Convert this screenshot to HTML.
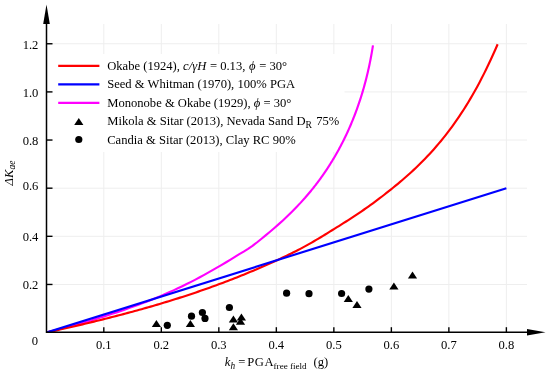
<!DOCTYPE html>
<html><head><meta charset="utf-8"><title>chart</title>
<style>
html,body{margin:0;padding:0;background:#fff;}
svg{display:block;font-family:"Liberation Serif",serif;font-size:12.6px;fill:#000;}
.g line{stroke:#eeeeee;stroke-width:1;}
.t line{stroke:#000;stroke-width:1.4;}
.c{fill:none;stroke-width:2.15;stroke-linejoin:round;}
i{font-style:italic}
</style></head><body>
<svg width="550" height="374" viewBox="0 0 550 374">
<rect width="550" height="374" fill="#fff"/>
<g class="g"><line x1="103.81" y1="24" x2="103.81" y2="332.6" /><line x1="161.32" y1="24" x2="161.32" y2="332.6" /><line x1="218.83" y1="24" x2="218.83" y2="332.6" /><line x1="276.34" y1="24" x2="276.34" y2="332.6" /><line x1="333.85" y1="24" x2="333.85" y2="332.6" /><line x1="391.36" y1="24" x2="391.36" y2="332.6" /><line x1="448.87" y1="24" x2="448.87" y2="332.6" /><line x1="506.38" y1="24" x2="506.38" y2="332.6" /><line x1="46.3" y1="284.46" x2="527" y2="284.46" /><line x1="46.3" y1="236.32" x2="527" y2="236.32" /><line x1="46.3" y1="188.18" x2="527" y2="188.18" /><line x1="46.3" y1="140.04" x2="527" y2="140.04" /><line x1="46.3" y1="91.90" x2="527" y2="91.90" /><line x1="46.3" y1="43.76" x2="527" y2="43.76" /></g>
<rect x="50" y="54" width="294.5" height="98" fill="#fff"/>
<clipPath id="cp"><rect x="46.5" y="0" width="504" height="332.2"/></clipPath>
<g clip-path="url(#cp)">
<polyline class="c" stroke="#ff00ff" points="46.30,332.60 50.69,331.33 55.07,330.23 59.46,329.12 63.85,327.98 68.23,326.82 72.62,325.63 77.00,324.43 81.39,323.19 85.78,321.94 90.16,320.66 94.55,319.35 98.94,318.01 103.32,316.65 107.71,315.26 112.10,313.84 116.48,312.39 120.87,310.91 125.25,309.40 129.64,307.86 134.03,306.28 138.41,304.69 142.80,303.06 147.19,301.39 151.57,299.69 155.96,297.93 160.35,296.13 164.73,294.27 169.12,292.34 173.50,290.36 177.89,288.32 182.28,286.23 186.66,284.09 191.05,281.89 195.44,279.62 199.82,277.27 204.21,274.86 208.60,272.39 212.98,269.89 217.37,267.37 221.75,264.83 226.14,262.23 230.53,259.57 234.91,256.85 239.30,254.15 243.69,251.60 248.07,248.91 252.46,245.84 256.85,242.51 261.23,239.01 265.62,235.40 270.00,231.74 274.39,228.01 278.78,224.16 283.16,220.17 287.55,216.03 291.94,211.74 296.32,207.28 300.71,202.62 305.10,197.74 305.52,197.25 305.95,196.76 306.38,196.27 306.80,195.78 307.23,195.28 307.66,194.78 308.08,194.28 308.51,193.78 308.94,193.27 309.36,192.76 309.79,192.25 310.22,191.73 310.64,191.22 311.07,190.70 311.50,190.17 311.93,189.65 312.35,189.12 312.78,188.59 313.21,188.06 313.63,187.52 314.06,186.98 314.49,186.44 314.91,185.90 315.34,185.35 315.77,184.80 316.19,184.24 316.62,183.69 317.05,183.13 317.47,182.56 317.90,182.00 318.33,181.43 318.76,180.85 319.18,180.28 319.61,179.70 320.04,179.11 320.46,178.53 320.89,177.94 321.32,177.34 321.74,176.74 322.17,176.14 322.60,175.54 323.02,174.93 323.45,174.32 323.88,173.70 324.30,173.08 324.73,172.46 325.16,171.83 325.59,171.20 326.01,170.56 326.44,169.92 326.87,169.28 327.29,168.63 327.72,167.98 328.15,167.33 328.57,166.67 329.00,166.00 329.43,165.33 329.85,164.66 330.28,163.98 330.71,163.30 331.13,162.62 331.56,161.92 331.99,161.23 332.42,160.53 332.84,159.82 333.27,159.11 333.70,158.40 334.12,157.68 334.55,156.95 334.98,156.22 335.40,155.49 335.83,154.75 336.26,154.00 336.68,153.25 337.11,152.50 337.54,151.73 337.96,150.97 338.39,150.19 338.82,149.41 339.25,148.63 339.67,147.84 340.10,147.04 340.53,146.23 340.95,145.42 341.38,144.61 341.81,143.78 342.23,142.95 342.66,142.12 343.09,141.27 343.51,140.42 343.94,139.57 344.37,138.70 344.79,137.83 345.22,136.95 345.65,136.06 346.08,135.17 346.50,134.26 346.93,133.35 347.36,132.43 347.78,131.50 348.21,130.56 348.64,129.61 349.06,128.65 349.49,127.68 349.92,126.71 350.34,125.72 350.77,124.72 351.20,123.71 351.62,122.69 352.05,121.67 352.48,120.62 352.91,119.57 353.33,118.51 353.76,117.43 354.19,116.35 354.61,115.25 355.04,114.13 355.47,113.01 355.89,111.87 356.32,110.71 356.75,109.54 357.17,108.36 357.60,107.16 358.03,105.95 358.45,104.71 358.88,103.47 359.31,102.20 359.74,100.92 360.16,99.62 360.59,98.30 361.02,96.96 361.44,95.59 361.87,94.21 362.30,92.81 362.72,91.38 363.15,89.93 363.58,88.45 364.00,86.94 364.43,85.41 364.86,83.84 365.29,82.25 365.71,80.62 366.14,78.96 366.57,77.27 366.99,75.53 367.42,73.76 367.85,71.94 368.27,70.08 368.70,68.17 369.13,66.21 369.55,64.19 369.98,62.12 370.41,59.98 370.83,57.77 371.26,55.48 371.69,53.12 372.12,50.66 372.54,48.11 372.97,45.44"/>
<polyline class="c" stroke="#ff0000" points="46.30,332.60 48.57,332.10 50.84,331.60 53.10,331.09 55.37,330.59 57.64,330.08 59.91,329.57 62.18,329.05 64.44,328.54 66.71,328.02 68.98,327.50 71.25,326.98 73.52,326.45 75.78,325.93 78.05,325.40 80.32,324.86 82.59,324.33 84.86,323.79 87.12,323.25 89.39,322.70 91.66,322.15 93.93,321.60 96.20,321.05 98.46,320.49 100.73,319.93 103.00,319.37 105.27,318.80 107.54,318.23 109.80,317.65 112.07,317.07 114.34,316.49 116.61,315.91 118.88,315.32 121.15,314.72 123.41,314.12 125.68,313.52 127.95,312.91 130.22,312.30 132.49,311.69 134.75,311.07 137.02,310.44 139.29,309.81 141.56,309.18 143.83,308.54 146.09,307.90 148.36,307.25 150.63,306.60 152.90,305.94 155.17,305.28 157.43,304.61 159.70,303.94 161.97,303.26 164.24,302.57 166.51,301.89 168.77,301.19 171.04,300.49 173.31,299.79 175.58,299.07 177.85,298.36 180.11,297.63 182.38,296.90 184.65,296.17 186.92,295.43 189.19,294.68 191.45,293.92 193.72,293.16 195.99,292.40 198.26,291.62 200.53,290.84 202.79,290.06 205.06,289.26 207.33,288.46 209.60,287.65 211.87,286.84 214.13,286.02 216.40,285.19 218.67,284.35 220.94,283.51 223.21,282.66 225.47,281.80 227.74,280.93 230.01,280.06 232.28,279.18 234.55,278.29 236.81,277.39 239.08,276.49 241.35,275.58 243.62,274.66 245.89,273.73 248.15,272.79 250.42,271.85 252.69,270.90 254.96,269.94 257.23,268.98 259.50,268.00 261.76,267.02 264.03,266.03 266.30,265.03 268.57,264.03 270.84,263.01 273.10,261.99 275.37,260.96 277.64,259.92 279.91,258.87 282.18,257.82 284.44,256.75 286.71,255.67 288.98,254.57 291.25,253.46 293.52,252.33 295.78,251.19 298.05,250.02 300.32,248.84 302.59,247.63 304.86,246.41 307.12,245.15 309.39,243.88 311.66,242.58 313.93,241.27 316.20,239.94 318.46,238.59 320.73,237.23 323.00,235.85 325.27,234.47 327.54,233.08 329.80,231.68 332.07,230.27 334.34,228.86 336.61,227.45 338.88,226.04 341.14,224.61 343.41,223.19 345.68,221.75 347.95,220.30 350.22,218.84 352.48,217.37 354.75,215.88 357.02,214.38 359.29,212.86 361.56,211.32 363.82,209.75 366.09,208.17 368.36,206.56 370.63,204.94 372.90,203.29 375.16,201.62 377.43,199.93 379.70,198.22 381.97,196.49 384.24,194.74 386.50,192.97 388.77,191.18 391.04,189.36 393.31,187.53 395.58,185.68 397.85,183.81 400.11,181.90 402.38,179.98 404.65,178.02 406.92,176.03 409.19,174.00 411.45,171.95 413.72,169.85 415.99,167.71 418.26,165.53 420.53,163.31 422.79,161.04 425.06,158.72 427.33,156.35 429.60,153.93 431.87,151.46 434.13,148.92 436.40,146.33 438.67,143.67 440.94,140.96 443.21,138.17 445.47,135.32 447.74,132.39 450.01,129.40 452.28,126.32 454.55,123.17 456.81,119.94 459.08,116.62 461.35,113.22 463.62,109.72 465.89,106.13 468.15,102.44 470.42,98.65 472.69,94.75 474.96,90.76 477.23,86.65 479.49,82.42 481.76,78.08 484.03,73.63 486.30,69.05 488.57,64.34 490.83,59.51 493.10,54.54 495.37,49.44 497.64,44.20"/>
<polyline class="c" stroke="#0000ff" points="46.30,332.60 506.38,188.18"/>
</g>
<g fill="#000"><polygon points="156.4,319.9 151.8,326.9 161.0,326.9"/><polygon points="190.4,319.9 185.8,326.9 195.0,326.9"/><polygon points="233.4,315.6 228.8,322.6 238.0,322.6"/><polygon points="233.4,323.3 228.8,330.3 238.0,330.3"/><polygon points="241.4,313.4 236.8,320.4 246.0,320.4"/><polygon points="240.5,317.8 235.9,324.8 245.1,324.8"/><polygon points="348.3,294.9 343.7,301.9 352.9,301.9"/><polygon points="357.0,301.0 352.4,308.0 361.6,308.0"/><polygon points="393.9,282.4 389.3,289.4 398.5,289.4"/><polygon points="412.5,271.6 407.9,278.6 417.1,278.6"/><circle cx="167.3" cy="325.3" r="3.6"/><circle cx="191.5" cy="316.2" r="3.6"/><circle cx="202.4" cy="312.5" r="3.6"/><circle cx="205" cy="318.4" r="3.6"/><circle cx="229.4" cy="307.5" r="3.6"/><circle cx="286.6" cy="293.2" r="3.6"/><circle cx="309" cy="293.7" r="3.6"/><circle cx="341.6" cy="293.5" r="3.6"/><circle cx="368.9" cy="289.1" r="3.6"/></g>
<g class="t"><line x1="103.81" y1="332.2" x2="103.81" y2="327.2" /><line x1="161.32" y1="332.2" x2="161.32" y2="327.2" /><line x1="218.83" y1="332.2" x2="218.83" y2="327.2" /><line x1="276.34" y1="332.2" x2="276.34" y2="327.2" /><line x1="333.85" y1="332.2" x2="333.85" y2="327.2" /><line x1="391.36" y1="332.2" x2="391.36" y2="327.2" /><line x1="448.87" y1="332.2" x2="448.87" y2="327.2" /><line x1="506.38" y1="332.2" x2="506.38" y2="327.2" /><line x1="46.5" y1="284.46" x2="52.5" y2="284.46" /><line x1="46.5" y1="236.32" x2="52.5" y2="236.32" /><line x1="46.5" y1="188.18" x2="52.5" y2="188.18" /><line x1="46.5" y1="140.04" x2="52.5" y2="140.04" /><line x1="46.5" y1="91.90" x2="52.5" y2="91.90" /><line x1="46.5" y1="43.76" x2="52.5" y2="43.76" /></g>
<line x1="46.5" y1="332.2" x2="530" y2="332.2" stroke="#000" stroke-width="1.5"/>
<line x1="46.5" y1="332.95" x2="46.5" y2="22" stroke="#000" stroke-width="1.5"/>
<polygon points="46.5,4.5 43.2,24 49.8,24"/>
<polygon points="545.5,332.2 527,328.9 527,335.5"/>
<g><text x="103.8" y="349.4" text-anchor="middle">0.1</text><text x="161.3" y="349.4" text-anchor="middle">0.2</text><text x="218.8" y="349.4" text-anchor="middle">0.3</text><text x="276.3" y="349.4" text-anchor="middle">0.4</text><text x="333.9" y="349.4" text-anchor="middle">0.5</text><text x="391.4" y="349.4" text-anchor="middle">0.6</text><text x="448.9" y="349.4" text-anchor="middle">0.7</text><text x="506.4" y="349.4" text-anchor="middle">0.8</text><text x="38.4" y="289.3" text-anchor="end">0.2</text><text x="38.4" y="241.3" text-anchor="end">0.4</text><text x="38.4" y="190.2" text-anchor="end">0.6</text><text x="38.4" y="144.9" text-anchor="end">0.8</text><text x="38.4" y="96.9" text-anchor="end">1.0</text><text x="38.4" y="48.6" text-anchor="end">1.2</text><text x="34.9" y="345" text-anchor="middle">0</text></g>
<g class="lg">
<line x1="58.2" y1="65.9" x2="99.4" y2="65.9" stroke="#ff0000" stroke-width="2.1"/>
<line x1="58.2" y1="84.4" x2="99.4" y2="84.4" stroke="#0000ff" stroke-width="2.1"/>
<line x1="58.2" y1="102.9" x2="99.4" y2="102.9" stroke="#ff00ff" stroke-width="2.1"/>
<polygon points="78.8,118.0 74.2,125.0 83.4,125.0"/>
<circle cx="78.8" cy="139.5" r="3.6"/>
<text id="l1" x="107.2" y="69.8">Okabe (1924), <tspan font-style="italic">c/γH</tspan><tspan dx="0.5"> = 0.13, </tspan><tspan font-style="italic" dx="0.6">ϕ</tspan><tspan dx="0.5"> = 30°</tspan></text>
<text id="l2" x="107.2" y="88.3">Seed &amp; Whitman (1970), 100% PGA</text>
<text id="l3" x="107.2" y="106.8">Mononobe &amp; Okabe (1929), <tspan font-style="italic">ϕ</tspan> = 30°</text>
<text id="l4" x="107.2" y="125.3">Mikola &amp; Sitar (2013), Nevada Sand D<tspan font-size="9.6" dy="2.6">R</tspan><tspan dy="-2.6" dx="1.2"> 75%</tspan></text>
<text id="l5" x="107.2" y="143.8">Candia &amp; Sitar (2013), Clay RC 90%</text>
</g>
<text id="xlab" x="224.8" y="366.4"><tspan font-style="italic">k</tspan><tspan font-style="italic" font-size="9.3" dy="2.6">h</tspan><tspan dy="-2.6" x="238.2">=</tspan><tspan x="247.3" letter-spacing="0.5">PGA</tspan><tspan font-size="9.1" dy="2.6" x="273.6">free field</tspan><tspan dy="-2.6" x="313.6">(g)</tspan></text>
<text id="ylab" transform="translate(13.3,173) rotate(-90)" text-anchor="middle"><tspan font-style="italic">ΔK</tspan><tspan font-style="italic" font-size="9.5" dy="1.5">ae</tspan></text>
</svg>
</body></html>
